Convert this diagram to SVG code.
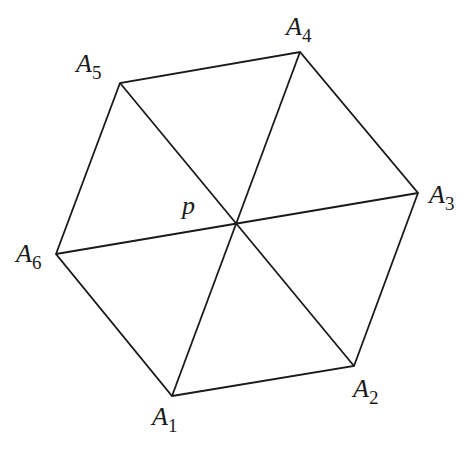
<svg xmlns="http://www.w3.org/2000/svg" width="474" height="449" viewBox="0 0 474 449">
<style>
.l{stroke:#1a1a1a;stroke-width:1.8;fill:none;stroke-linejoin:miter}
.t{font-family:"Liberation Serif",serif;font-style:italic;font-size:26px;fill:#1a1a1a}
.s{font-size:19px;font-style:normal}
</style>
<rect width="474" height="449" fill="#fff"/>
<g id="edges">
<polygon class="l" points="172,396 354,366 418,193 300,52 120,83 56,254"/>
<line class="l" x1="172" y1="396" x2="300" y2="52"/>
<line class="l" x1="354" y1="366" x2="120" y2="83"/>
<line class="l" x1="418" y1="193" x2="56" y2="254"/>
</g>
<g id="A1"><text class="t" x="152" y="425">A<tspan class="s" dy="7">1</tspan></text></g>
<g id="A2"><text class="t" x="353" y="397">A<tspan class="s" dy="7">2</tspan></text></g>
<g id="A3"><text class="t" x="429" y="203">A<tspan class="s" dy="7">3</tspan></text></g>
<g id="A4"><text class="t" x="286" y="35">A<tspan class="s" dy="7">4</tspan></text></g>
<g id="A5"><text class="t" x="76" y="72">A<tspan class="s" dy="7">5</tspan></text></g>
<g id="A6"><text class="t" x="16" y="262">A<tspan class="s" dy="7">6</tspan></text></g>
<g id="p"><text class="t" x="182" y="214">p</text></g>
</svg>
